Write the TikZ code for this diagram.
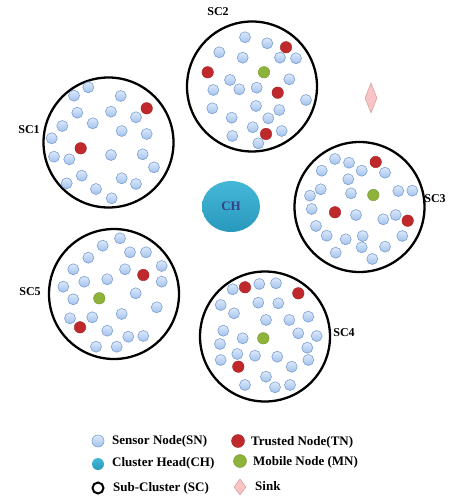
\documentclass[tikz,border=0pt]{standalone}
\usepackage{fontspec}
\setmainfont{Liberation Serif}
\usetikzlibrary{shapes.geometric}
\definecolor{sntop}{HTML}{DDE9FA}
\definecolor{snbot}{HTML}{A3C2EC}
\definecolor{sndraw}{HTML}{7A9FD4}
\definecolor{tnred}{HTML}{C0292C}
\definecolor{mngreen}{HTML}{8DB33A}
\definecolor{chtop}{HTML}{45B8D8}
\definecolor{chbot}{HTML}{2898BC}
\definecolor{chtext}{HTML}{3A3D8C}
\definecolor{sinkfill}{HTML}{F8C4C4}
\definecolor{sinkdraw}{HTML}{D89898}
\tikzset{
  x=1pt, y=-1pt,
  sn/.style={circle, inner sep=0pt, minimum size=11pt, top color=sntop, bottom color=snbot, draw=sndraw, line width=0.6pt},
  tn/.style={circle, inner sep=0pt, minimum size=11.5pt, fill=tnred, draw=tnred!85!black, line width=0.4pt},
  mn/.style={circle, inner sep=0pt, minimum size=11.5pt, fill=mngreen, draw=mngreen!85!black, line width=0.4pt},
  subcl/.style={circle, draw=black, line width=2.3pt, inner sep=0pt, minimum size=130pt},
  sclabel/.style={font=\bfseries\fontsize{12}{14}\selectfont, inner sep=0pt},
  legtext/.style={anchor=west, font=\bfseries\fontsize{13}{15}\selectfont, inner sep=0pt},
  sinkshape/.style={diamond, inner sep=0pt, shape aspect=0.4, fill=sinkfill, draw=sinkdraw, line width=0.5pt},
}
\begin{document}
\begin{tikzpicture}
\useasboundingbox (0,0) rectangle (474,502);
% sub-clusters
\node[subcl] (SC1) at (108.5,142.5) {};
\node[subcl] (SC2) at (252,86.5) {};
\node[subcl] (SC3) at (359.5,207) {};
\node[subcl] (SC5) at (114,294) {};
\node[subcl] (SC4) at (265,336.5) {};
% labels
\node[sclabel] (lSC1) at (29,130) {SC1};
\node[sclabel] (lSC2) at (218,12) {SC2};
\node[sclabel] (lSC3) at (435,199) {SC3};
\node[sclabel] (lSC4) at (344,333) {SC4};
\node[sclabel] (lSC5) at (30,292) {SC5};
% SC1 nodes
\foreach \x/\y [count=\i] in {88.3/87.3, 74/95.7, 120.7/96, 77.3/112.7, 111/111.7, 136/117.3, 62.3/126, 92.7/123.3, 121.7/131, 146.7/134, 51.7/138.3, 54/156.7, 69.3/159.3, 111/155, 142.7/154.3, 154/167.3, 81.7/175.7, 66.7/183.3, 121.7/178.3, 136/184, 96/189, 111.7/198.3}
  \node[sn] (a\i) at (\x,\y) {};
\node[tn] (aT1) at (146.7,108.3) {};
\node[tn] (aT2) at (80.7,148.3) {};
% SC2 nodes
\foreach \x/\y [count=\i] in {245/37.3, 267.3/43.3, 219.3/52.3, 242.7/57.7, 280/57.7, 296/58.3, 289.3/79.3, 230/80, 213.3/90, 239.3/89.3, 256.7/87.7, 306/100, 212.3/108.3, 256/106, 279.3/110, 231.7/117.7, 268.3/118.3, 252.7/127.3, 281.7/131, 232.3/136, 258.3/143.3}
  \node[sn] (b\i) at (\x,\y) {};
\node[tn] (bT1) at (286,47.3) {};
\node[tn] (bT2) at (207.7,72.3) {};
\node[tn] (bT3) at (277.7,92.7) {};
\node[tn] (bT4) at (266,134) {};
\node[mn] (bM1) at (264,72.3) {};
% SC3 nodes
\foreach \x/\y [count=\i] in {335/159, 349/162.7, 321.7/170.7, 361.7/170.7, 385/172.7, 348.3/179.3, 320.7/189.3, 310/195.7, 351/193.3, 398.3/191, 412.3/190.7, 311.7/209, 356/215, 383.3/219.3, 395.7/215, 316/226, 326.7/235.7, 345.7/239.3, 362.7/236, 402.3/236, 361.7/247.3, 385/246.7, 335.7/252.7, 372.3/259}
  \node[sn] (c\i) at (\x,\y) {};
\node[tn] (cT1) at (375.7,162) {};
\node[tn] (cT2) at (335,212.3) {};
\node[tn] (cT3) at (407.7,220.7) {};
\node[mn] (cM1) at (373.3,195) {};
% SC5 nodes
\foreach \x/\y [count=\i] in {120/238.3, 102.7/245.7, 130/252.3, 146/252.3, 88.3/257.7, 161.7/266, 73.3/269.3, 125/269.3, 107.3/279.3, 84.3/281.7, 161.7/281.7, 63.3/286.7, 135.7/293.3, 73.3/299.3, 156.7/307.3, 70/318.3, 92.3/317.3, 121.7/314, 107.3/330.7, 128.3/336.7, 143.3/336, 96/346.7, 116.7/346.7}
  \node[sn] (e\i) at (\x,\y) {};
\node[tn] (eT1) at (143.3,275) {};
\node[tn] (eT2) at (80,327.3) {};
\node[mn] (eM1) at (99.3,298.3) {};
% SC4 nodes
\foreach \x/\y [count=\i] in {232.7/289.3, 259.3/284, 276/283.3, 220.7/305, 258.3/302.7, 278.3/303.3, 234/313.3, 266/320, 289.3/320, 308.3/316.7, 223.3/330.7, 298.3/333.3, 316.7/336, 242.7/338.3, 220/344, 307.3/347.7, 237.3/354, 255/355.7, 277.3/356.7, 220.7/360, 308.3/360, 291.7/366.7, 266/376.7, 245/385, 275/387.3, 290/385}
  \node[sn] (d\i) at (\x,\y) {};
\node[tn] (dT1) at (245,287.3) {};
\node[tn] (dT2) at (298.3,293.3) {};
\node[tn] (dT3) at (238.3,366.7) {};
\node[mn] (dM1) at (263.3,338.3) {};
% cluster head
\node[ellipse, minimum width=58pt, minimum height=51pt, inner sep=0pt, top color=chtop, bottom color=chbot, font=\bfseries\fontsize{13}{15}\selectfont, text=chtext] (CH) at (231,206.5) {CH};
% sink
\node[sinkshape, minimum width=12pt, minimum height=30pt] (sink) at (371,98) {};
% legend
\node[sn, minimum size=12pt] (lgSN) at (98,441) {};
\node[legtext] (tSN) at (112,441) {Sensor Node(SN)};
\node[tn, minimum size=13pt] (lgTN) at (238,441) {};
\node[legtext] (tTN) at (251,442) {Trusted Node(TN)};
\node[circle, inner sep=0pt, minimum size=12pt, top color=chtop, bottom color=chbot] (lgCH) at (98,464) {};
\node[legtext] (tCH) at (112,463) {Cluster Head(CH)};
\node[mn, minimum size=13pt] (lgMN) at (240,461) {};
\node[legtext] (tMN) at (253,462) {Mobile Node (MN)};
\node[circle, draw=black, line width=2pt, inner sep=0pt, minimum size=11pt] (lgSC) at (98,488) {};
\node[legtext] (tSC) at (113,488) {Sub-Cluster (SC)};
\node[sinkshape, minimum width=12pt, minimum height=16pt] (lgSink) at (240,487) {};
\node[legtext] (tSink) at (255,486) {Sink};
\end{tikzpicture}
\end{document}
